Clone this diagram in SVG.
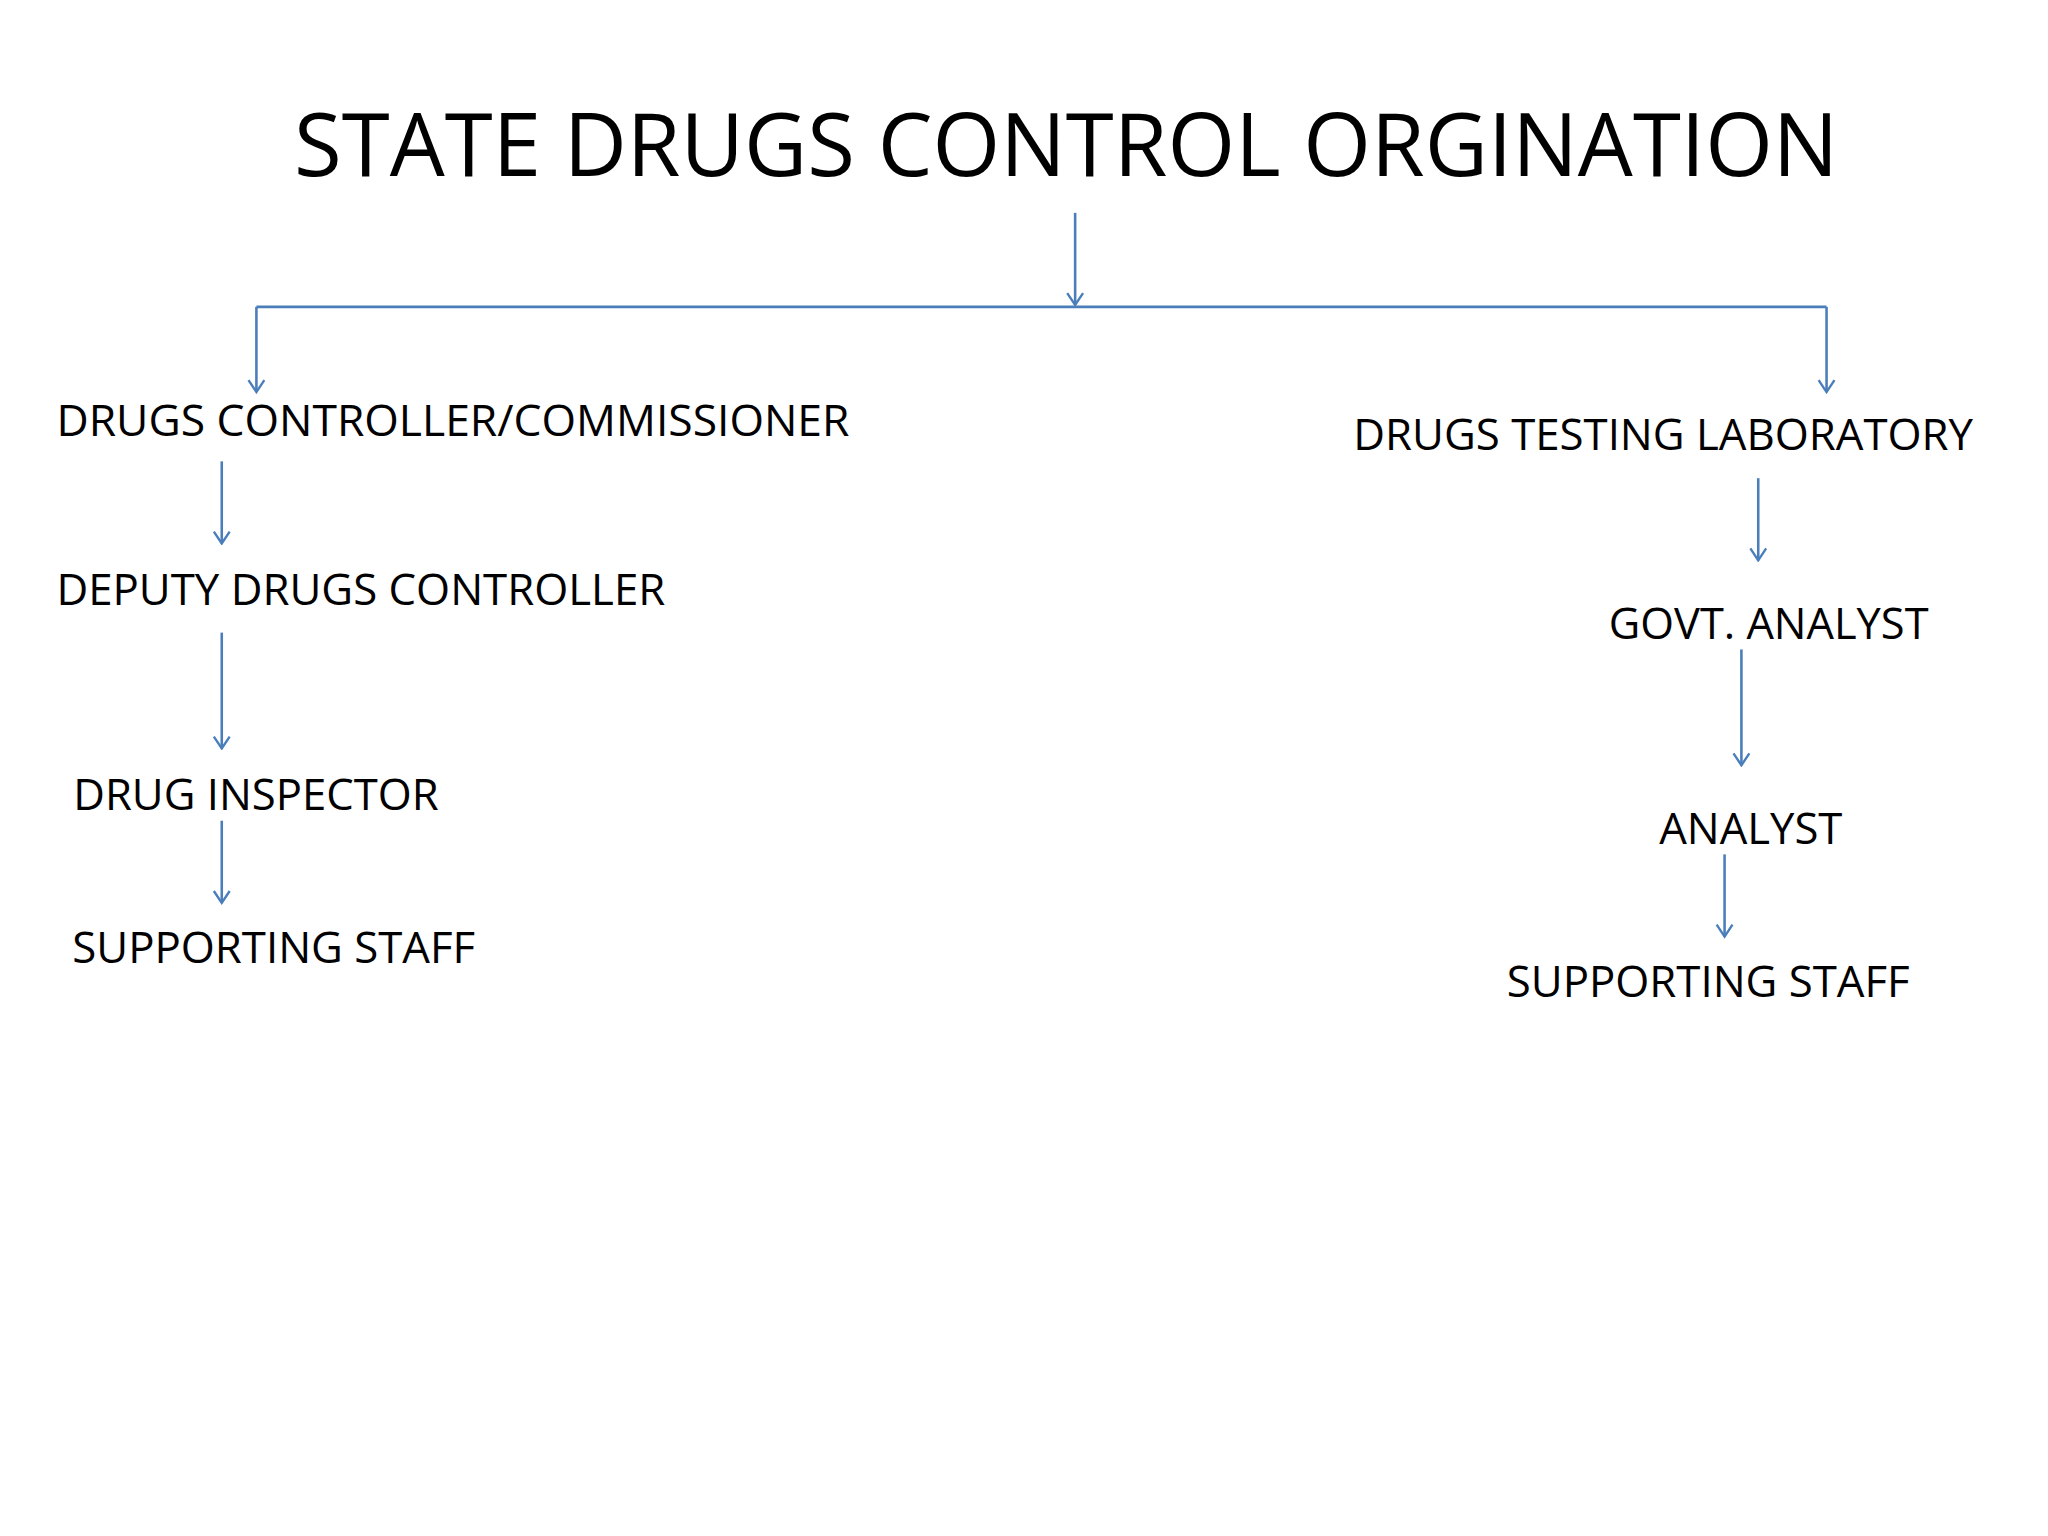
<svg xmlns="http://www.w3.org/2000/svg" width="2048" height="1536" viewBox="0 0 2048 1536">
<style>
text{font-family:"Open Sans","Liberation Sans",sans-serif;fill:#000}
.t{font-size:44px}
.c{stroke:#4a7ebb;stroke-width:2.6;fill:none}
</style>
<defs><marker id="a" viewBox="0 0 20 20" refX="18" refY="10" markerWidth="20" markerHeight="20" markerUnits="userSpaceOnUse" orient="auto"><path d="M6 2 L18 10 L6 18" fill="none" stroke="#4a7ebb" stroke-width="2.4"/></marker></defs>
<rect width="2048" height="1536" fill="#fff"/>
<g transform="scale(0.99)">
<g id="title"><text x="297" y="178" font-size="88" textLength="1560" lengthAdjust="spacingAndGlyphs">STATE DRUGS CONTROL ORGINATION</text></g>
<g id="connectors" class="c">
<path d="M1086 215 V308" marker-end="url(#a)"/>
<path d="M259 310 H1845"/>
<path d="M259 310 V396" marker-end="url(#a)"/>
<path d="M1845 310 V396" marker-end="url(#a)"/>
<path d="M224 466 V549" marker-end="url(#a)"/>
<path d="M224 639 V756" marker-end="url(#a)"/>
<path d="M224 829 V912" marker-end="url(#a)"/>
<path d="M1776 483 V566" marker-end="url(#a)"/>
<path d="M1759 656 V773" marker-end="url(#a)"/>
<path d="M1742 863 V946" marker-end="url(#a)"/>
</g>
<g id="n1"><text class="t" x="57" y="440" textLength="801" lengthAdjust="spacingAndGlyphs">DRUGS CONTROLLER/COMMISSIONER</text></g>
<g id="n2"><text class="t" x="57" y="611" textLength="615" lengthAdjust="spacingAndGlyphs">DEPUTY DRUGS CONTROLLER</text></g>
<g id="n3"><text class="t" x="74" y="818" textLength="369" lengthAdjust="spacingAndGlyphs">DRUG INSPECTOR</text></g>
<g id="n4"><text class="t" x="73" y="973" textLength="407" lengthAdjust="spacingAndGlyphs">SUPPORTING STAFF</text></g>
<g id="n5"><text class="t" x="1367" y="455" textLength="626" lengthAdjust="spacingAndGlyphs">DRUGS TESTING LABORATORY</text></g>
<g id="n6"><text class="t" x="1625" y="645" textLength="323" lengthAdjust="spacingAndGlyphs">GOVT. ANALYST</text></g>
<g id="n7"><text class="t" x="1676" y="853" textLength="185" lengthAdjust="spacingAndGlyphs">ANALYST</text></g>
<g id="n8"><text class="t" x="1522" y="1007" textLength="407" lengthAdjust="spacingAndGlyphs">SUPPORTING STAFF</text></g>
</g>
</svg>
